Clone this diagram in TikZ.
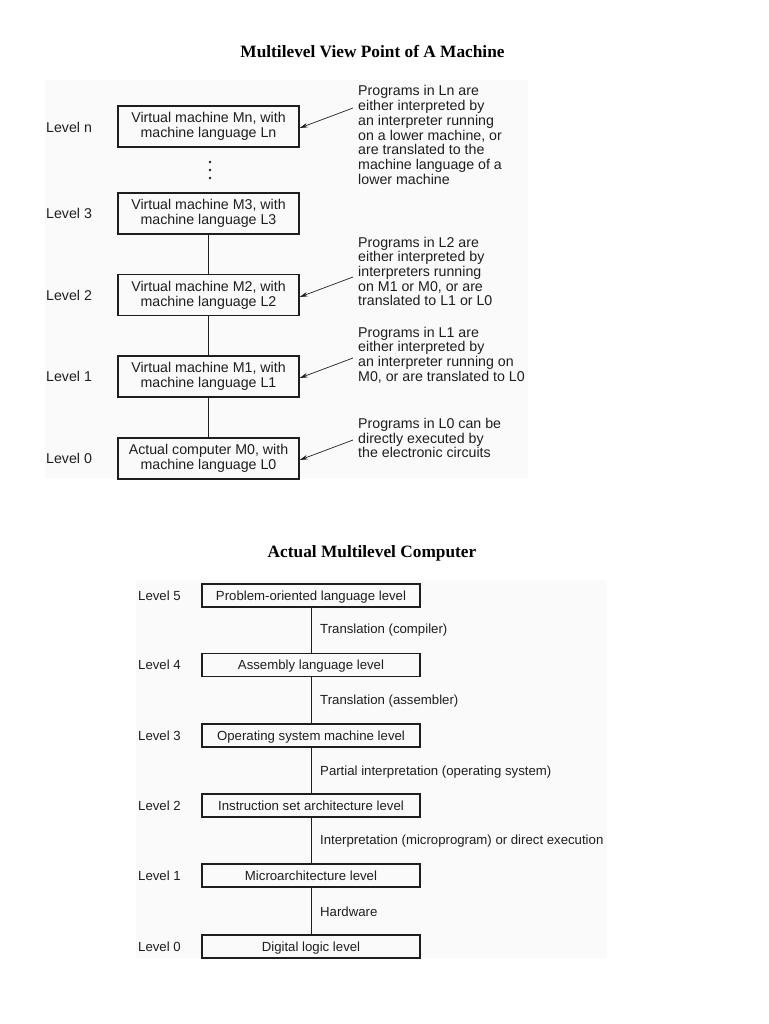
\documentclass[tikz,border=0pt]{standalone}
\usepackage{fontspec}
\setmainfont{Liberation Sans}
\newfontfamily\titlefont{Liberation Serif}
\usetikzlibrary{arrows.meta}
\definecolor{bgg}{RGB}{250,250,250}
\definecolor{ink}{RGB}{30,30,30}
\begin{document}
\begin{tikzpicture}[x=1pt,y=-1pt,
  title/.style={font=\titlefont\bfseries\fontsize{17.3}{20}\selectfont, text=black},
  vmbox/.style={draw=ink, line width=1.4pt, minimum width=181pt, minimum height=41pt, inner sep=0pt,
    align=center, text=ink, font=\fontsize{14.2}{15.2}\selectfont},
  lvbox/.style={draw=ink, line width=1.3pt, minimum width=218pt, minimum height=23pt, inner sep=0pt,
    text height=9.5pt, text depth=0pt, text=ink, font=\fontsize{13.2}{15}\selectfont},
  toplabel/.style={anchor=west, inner sep=0pt, text=ink, font=\fontsize{14.2}{15}\selectfont},
  botlabel/.style={anchor=west, inner sep=0pt, text=ink, font=\fontsize{13.2}{15}\selectfont},
  note/.style={anchor=west, inner sep=0pt, align=left, text=ink, font=\fontsize{14.2}{14.7}\selectfont},
  link/.style={draw=ink, line width=0.9pt},
  pointer/.style={draw=ink, line width=0.7pt, -{Stealth[length=8pt,width=4.5pt]}},
  dot/.style={circle, fill=ink, inner sep=0pt, minimum size=2.8pt}
]
\useasboundingbox (0,0) rectangle (768,1024);
\fill[white] (0,0) rectangle (768,1024);
\fill[bgg] (45,80) rectangle (528,478);
\fill[bgg] (136,580) rectangle (607,958);

% ---------- Top diagram ----------
\node[title] (t1) at (372.5,52) {Multilevel View Point of A Machine};

\node[vmbox] (mn) at (208.5,126.5) {Virtual machine Mn, with\\machine language Ln};
\node[vmbox] (m3) at (208.5,213.5) {Virtual machine M3, with\\machine language L3};
\node[vmbox] (m2) at (208.5,295) {Virtual machine M2, with\\machine language L2};
\node[vmbox] (m1) at (208.5,376.5) {Virtual machine M1, with\\machine language L1};
\node[vmbox] (m0) at (208.5,458.5) {Actual computer M0, with\\machine language L0};

\node[toplabel] (ln) at (46,127) {Level n};
\node[toplabel] (l3) at (46,213.5) {Level 3};
\node[toplabel] (l2) at (46,295) {Level 2};
\node[toplabel] (l1) at (46,376.5) {Level 1};
\node[toplabel] (l0) at (46,458.5) {Level 0};

\node[dot] (d1) at (210,162) {};
\node[dot] (d2) at (210,170) {};
\node[dot] (d3) at (210,178) {};

\draw[link] (m3) -- (m2);
\draw[link] (m2) -- (m1);
\draw[link] (m1) -- (m0);

\node[note] (nn) at (358,135) {Programs in Ln are\\either interpreted by\\an interpreter running\\on a lower machine, or\\are translated to the\\machine language of a\\lower machine};
\node[note] (n2) at (358,271.5) {Programs in L2 are\\either interpreted by\\interpreters running\\on M1 or M0, or are\\translated to L1 or L0};
\node[note] (n1) at (358,355) {Programs in L1 are\\either interpreted by\\an interpreter running on\\M0, or are translated to L0};
\node[note] (n0) at (358,438) {Programs in L0 can be\\directly executed by\\the electronic circuits};

\coordinate (an) at (353,108);
\coordinate (a2) at (353,277);
\coordinate (a1) at (353,358);
\coordinate (a0) at (353,440);
\draw[pointer] (an) -- ([yshift=-1.5pt]mn.east);
\draw[pointer] (a2) -- ([yshift=-2pt]m2.east);
\draw[pointer] (a1) -- ([yshift=-1.5pt]m1.east);
\draw[pointer] (a0) -- ([yshift=-1.5pt]m0.east);

% ---------- Bottom diagram ----------
\node[title] (t2) at (372,553) {Actual Multilevel Computer};

\node[lvbox] (b5) at (311,595.5) {Problem-oriented language level};
\node[lvbox] (b4) at (311,665) {Assembly language level};
\node[lvbox] (b3) at (311,735.5) {Operating system machine level};
\node[lvbox] (b2) at (311,805.5) {Instruction set architecture level};
\node[lvbox] (b1) at (311,875.5) {Microarchitecture level};
\node[lvbox] (b0) at (311,946.5) {Digital logic level};

\node[botlabel] (v5) at (138,596) {Level 5};
\node[botlabel] (v4) at (138,665) {Level 4};
\node[botlabel] (v3) at (138,735.5) {Level 3};
\node[botlabel] (v2) at (138,805.5) {Level 2};
\node[botlabel] (v1) at (138,875.5) {Level 1};
\node[botlabel] (v0) at (138,946.5) {Level 0};

\draw[link] (b5) -- (b4);
\draw[link] (b4) -- (b3);
\draw[link] (b3) -- (b2);
\draw[link] (b2) -- (b1);
\draw[link] (b1) -- (b0);

\node[botlabel] (e54) at (320,630) {Translation (compiler)};
\node[botlabel] (e43) at (320,701) {Translation (assembler)};
\node[botlabel] (e32) at (320,772) {Partial interpretation (operating system)};
\node[botlabel] (e21) at (320,841) {Interpretation (microprogram) or direct execution};
\node[botlabel] (e10) at (320,912) {Hardware};
\end{tikzpicture}
\end{document}
